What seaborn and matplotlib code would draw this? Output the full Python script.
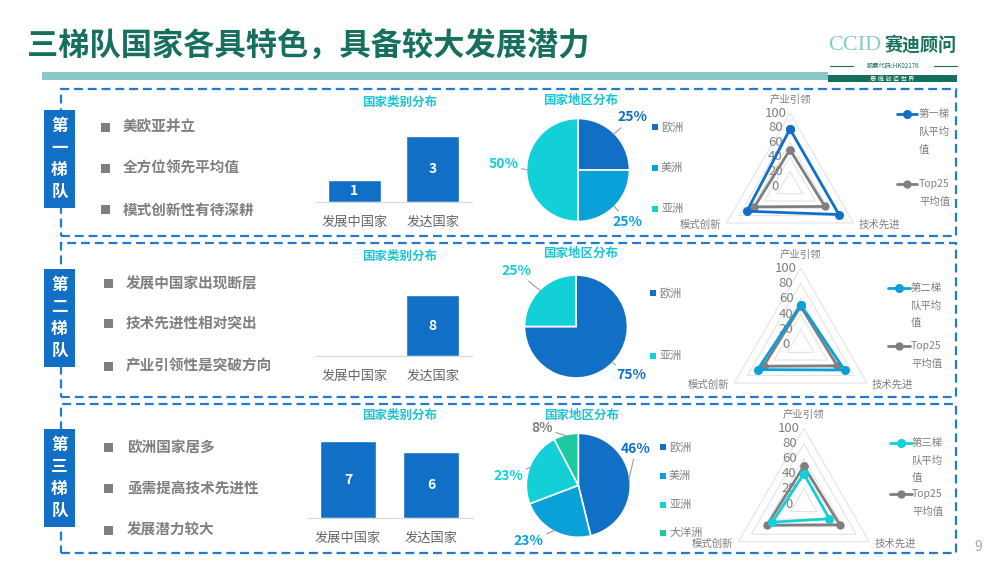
import numpy as np
import matplotlib
matplotlib.use("Agg")
import matplotlib.pyplot as plt
import seaborn as sns
from matplotlib.patches import Rectangle
from matplotlib.lines import Line2D

# --- data ---
title = "三梯队国家各具特色，具备较大发展潜力"
tier_names = ["第一梯队", "第二梯队", "第三梯队"]
bullets_1 = ["美欧亚并立", "全方位领先平均值", "模式创新性有待深耕"]
bullets_2 = ["发展中国家出现断层", "技术先进性相对突出", "产业引领性是突破方向"]
bullets_3 = ["欧洲国家居多", "亟需提高技术先进性", "发展潜力较大"]

bar_categories = ["发展中国家", "发达国家"]
bar_counts_1 = [1, 3]
bar_counts_2 = [0, 8]
bar_counts_3 = [7, 6]

region_names_1 = ["欧洲", "美洲", "亚洲"]
region_counts_1 = [1, 1, 2]
region_names_2 = ["欧洲", "亚洲"]
region_counts_2 = [6, 2]
region_names_3 = ["欧洲", "美洲", "亚洲", "大洋洲"]
region_counts_3 = [6, 3, 3, 1]

radar_dims = ["产业引领", "技术先进", "模式创新"]
radar_ticks = [0, 20, 40, 60, 80, 100]
tier1_avg = [78, 77, 68]
tier2_avg = [52, 66, 65]
tier3_avg = [40, 39, 48]
top25_avg = [50, 55, 56]
tier_series_names = ["第一梯队平均值", "第二梯队平均值", "第三梯队平均值"]
top25_name = "Top25平均值"

# --- style ---
sns.set_style("white")
plt.rcParams["font.family"] = ["Noto Sans CJK SC", "DejaVu Sans"]

DARK_BLUE = "#1170c6"
MID_BLUE = "#0aa0d8"
CYAN = "#12cfd8"
GREEN = "#1cc8a0"
GRAY = "#7f7f7f"
TEAL = "#17705e"
TITLE_CYAN = "#1cc3d3"
DASH_BLUE = "#2479d0"
region_colors = {"欧洲": DARK_BLUE, "美洲": MID_BLUE, "亚洲": CYAN, "大洋洲": GREEN}
pct_colors = {"欧洲": DARK_BLUE, "美洲": MID_BLUE, "亚洲": CYAN, "大洋洲": GRAY}

W, H = 1000, 563
fig = plt.figure(figsize=(10, 5.63), dpi=100)


def fx(x):
    return x / W


def fy(y):
    return 1 - y / H


def box(x0, y0, x1, y1):
    return [x0 / W, 1 - y1 / H, (x1 - x0) / W, (y1 - y0) / H]


def rect(x0, y0, x1, y1, **kw):
    r = Rectangle((fx(x0), fy(y1)), (x1 - x0) / W, (y1 - y0) / H,
                  transform=fig.transFigure, **kw)
    fig.add_artist(r)
    return r


# --- header ---
fig.text(fx(27), fy(47), title, fontsize=22.5, fontweight="bold", color=TEAL,
         ha="left", va="center")
rect(42, 72, 828, 80, color="#8cc7c7", lw=0)
fig.text(fx(828), fy(45), "CCID", fontsize=16, color="#86cfc6",
         family="Liberation Serif", ha="left", va="center")
fig.text(fx(885), fy(45), "赛迪顾问", fontsize=13, fontweight="bold", color=TEAL,
         ha="left", va="center")
fig.text(fx(893), fy(66), "股票代码:HK02176", fontsize=4.5, color=TEAL,
         ha="center", va="center")
for xa, xb in [(830, 853), (934, 957)]:
    fig.add_artist(Line2D([fx(xa), fx(xb)], [fy(66), fy(66)],
                          transform=fig.transFigure, color=TEAL, lw=0.8))
rect(828, 75, 957, 82, color=TEAL, lw=0)
fig.text(fx(892), fy(78.5), "思 维 创 造 世 界", fontsize=4.5, color="white",
         ha="center", va="center")
fig.text(fx(978), fy(547), "9", fontsize=10, color="#a6a6a6", ha="center", va="center")

# --- layout for each tier row ---
rows = [
    dict(frame=(89, 236), tag=(110, 208), bx=(105, 123), by=[127, 168, 210],
         bar_box=(315, 125, 472, 202), bar_ymax=3.5, bar_width=0.67, bar_title=(400, 102),
         pie_c=(578, 170), pie_r=51.5, pie_title=(581, 100),
         pie_lbl=[(1.06, 1.02), (0.96, -1.0), (-1.45, 0.11)],
         leg=(655, 127, 41),
         rad_c=(790, 186.3), rad_r=73.3, rad_color=DARK_BLUE,
         rad_leg=(897, 917, 919, 114.3, 184.3, 18)),
    dict(frame=(243, 397), tag=(269, 367), bx=(108, 126), by=[283, 323, 366],
         bar_box=(315, 280, 472, 356), bar_ymax=10, bar_width=0.67, bar_title=(400, 256),
         pie_c=(576, 326.5), pie_r=51.5, pie_title=(581, 253),
         pie_lbl=[(1.08, -0.94), (-1.16, 1.08)],
         leg=(653, 293, 63),
         rad_c=(800.7, 344.7), rad_r=76.7, rad_color=MID_BLUE,
         rad_leg=(888, 910, 911, 288.3, 346, 17.5)),
    dict(frame=(404, 553), tag=(429, 527), bx=(108, 127), by=[447, 488, 530],
         bar_box=(306.5, 430, 472.5, 518), bar_ymax=8, bar_width=0.675, bar_title=(400, 415),
         pie_c=(578.3, 485.3), pie_r=52, pie_title=(582, 415),
         pie_lbl=[(1.11, 0.70), (-0.96, -1.08), (-1.35, 0.17), (-0.70, 1.10)],
         leg=(663, 447, 28.8),
         rad_c=(803.8, 504), rad_r=75.6, rad_color=CYAN,
         rad_leg=(890, 911.7, 912, 443.3, 494, 17.5)),
]
bullets = [bullets_1, bullets_2, bullets_3]
bar_counts = [bar_counts_1, bar_counts_2, bar_counts_3]
region_names = [region_names_1, region_names_2, region_names_3]
region_counts = [region_counts_1, region_counts_2, region_counts_3]
tier_avgs = [tier1_avg, tier2_avg, tier3_avg]

theta = np.arange(len(radar_dims)) * 2 * np.pi / len(radar_dims)
theta_c = np.append(theta, theta[0])

for i, L in enumerate(rows):
    # dashed frame and tier tag
    y0, y1 = L["frame"]
    rect(61, y0, 956, y1, fill=False, ec=DASH_BLUE, lw=1.6, ls=(0, (4, 2.2)))
    ty0, ty1 = L["tag"]
    rect(44, ty0, 75, ty1, color=DARK_BLUE, lw=0, zorder=5)
    fig.text(fx(59.5), fy((ty0 + ty1) / 2), "\n".join(tier_names[i]), fontsize=12,
             fontweight="bold", color="white", ha="center", va="center",
             linespacing=1.3, zorder=6)

    # bullets
    sx, tx = L["bx"]
    for yb, txt in zip(L["by"], bullets[i]):
        rect(sx - 4.5, yb - 4.5, sx + 4.5, yb + 4.5, color=GRAY, lw=0)
        fig.text(fx(tx), fy(yb), txt, fontsize=10.5, fontweight="bold", color=GRAY,
                 ha="left", va="center")

    # bar chart
    ax = fig.add_axes(box(*L["bar_box"]))
    sns.barplot(x=bar_categories, y=bar_counts[i], color=DARK_BLUE, saturation=1,
                width=L["bar_width"], ax=ax)
    ax.set_xlim(-0.5, 1.5)
    ax.set_ylim(0, L["bar_ymax"])
    ax.set_yticks([])
    ax.set_facecolor("none")
    for s in ["top", "left", "right"]:
        ax.spines[s].set_visible(False)
    ax.spines["bottom"].set_color("#d9d9d9")
    ax.spines["bottom"].set_linewidth(0.8)
    ax.tick_params(axis="x", which="major", length=0, pad=10, labelsize=9.5,
                   labelcolor="#666666")
    ax.set_xticks([-0.5, 0.5, 1.5], minor=True)
    ax.tick_params(axis="x", which="minor", length=4, color="#d9d9d9", width=0.8)
    ax.bar_label(ax.containers[0],
                 labels=[str(v) if v else "" for v in bar_counts[i]],
                 label_type="center", color="white", fontsize=10, fontweight="bold")
    fig.text(fx(L["bar_title"][0]), fy(L["bar_title"][1]), "国家类别分布", fontsize=9,
             fontweight="bold", color=TITLE_CYAN, ha="center", va="center")

    # pie chart
    cx, cy = L["pie_c"]
    r = L["pie_r"]
    ax = fig.add_axes(box(cx - 1.25 * r, cy - 1.25 * r, cx + 1.25 * r, cy + 1.25 * r))
    names = region_names[i]
    counts = region_counts[i]
    wedges, _ = ax.pie(counts, colors=[region_colors[n] for n in names], startangle=90,
                       counterclock=False,
                       wedgeprops=dict(edgecolor="white", linewidth=1.2))
    ax.set_xlim(-1.25, 1.25)
    ax.set_ylim(-1.25, 1.25)
    total = sum(counts)
    for w, n, c, pos in zip(wedges, names, counts, L["pie_lbl"]):
        mid = np.deg2rad((w.theta1 + w.theta2) / 2)
        ax.annotate(f"{c / total * 100:.0f}%", xy=(0.98 * np.cos(mid), 0.98 * np.sin(mid)),
                    xytext=pos, ha="center", va="center", fontsize=10,
                    fontweight="bold", color=pct_colors[n], annotation_clip=False,
                    arrowprops=dict(arrowstyle="-", color="#a6a6a6", lw=0.9,
                                    shrinkA=0, shrinkB=0))
    fig.text(fx(L["pie_title"][0]), fy(L["pie_title"][1]), "国家地区分布", fontsize=9,
             fontweight="bold", color=TITLE_CYAN, ha="center", va="center")
    lx, ly, step = L["leg"]
    for k, n in enumerate(names):
        yy = ly + k * step
        rect(lx - 3, yy - 3, lx + 3, yy + 3, color=region_colors[n], lw=0)
        fig.text(fx(lx + 6), fy(yy), n, fontsize=8, color=GRAY, ha="left", va="center")

    # radar chart
    rcx, rcy = L["rad_c"]
    rr = L["rad_r"]
    ax = fig.add_axes(box(rcx - rr, rcy - rr, rcx + rr, rcy + rr), projection="polar")
    ax.set_theta_zero_location("N")
    ax.set_theta_direction(-1)
    ax.set_facecolor("none")
    ax.grid(False)
    ax.spines["polar"].set_visible(False)
    ax.set_xticks([])
    ax.set_yticks([])
    for lvl in radar_ticks[1:]:
        ax.plot(theta_c, [lvl] * len(theta_c), color="#e3e3e3", lw=0.8, zorder=1)
    ax.plot(theta_c, top25_avg + top25_avg[:1], color=GRAY, lw=2, marker="o", ms=5,
            zorder=3)
    ax.plot(theta_c, tier_avgs[i] + tier_avgs[i][:1], color=L["rad_color"], lw=2,
            marker="o", ms=5.5, zorder=4)
    ax.set_ylim(0, 100)
    for t in radar_ticks:
        ax.annotate(str(t), xy=(0, t), xytext=(-10.5, 0), textcoords="offset points",
                    ha="center", va="center", fontsize=9.5, color=GRAY,
                    annotation_clip=False, zorder=2)
    offs = [((0, 9.5), "center"), ((3.5, -1.5), "left"), ((-3.5, -1.5), "right")]
    for ang, d, (off, ha) in zip(theta, radar_dims, offs):
        ax.annotate(d, xy=(ang, 100), xytext=off, textcoords="offset points",
                    ha=ha, va="center", fontsize=7.5, color=GRAY, annotation_clip=False)

    # radar legend
    la, lb, ltx, ly1, ly2, dy = L["rad_leg"]
    for yy, col, ms, label in [(ly1, L["rad_color"], 5.5, tier_series_names[i]),
                               (ly2, GRAY, 5, top25_name)]:
        fig.add_artist(Line2D([fx(la), fx(lb)], [fy(yy), fy(yy)],
                              transform=fig.transFigure, color=col, lw=2))
        fig.add_artist(Line2D([fx((la + lb) / 2)], [fy(yy)], transform=fig.transFigure,
                              color=col, marker="o", ms=ms))
        if label.startswith("Top25"):
            parts = ["Top25", label[5:]]
        else:
            parts = [label[j:j + 3] for j in range(0, len(label), 3)]
        for k, p in enumerate(parts):
            fig.text(fx(ltx), fy(yy + k * dy), p, fontsize=7.5, color=GRAY,
                     ha="left", va="center")

fig.savefig("out.png", dpi=100)
